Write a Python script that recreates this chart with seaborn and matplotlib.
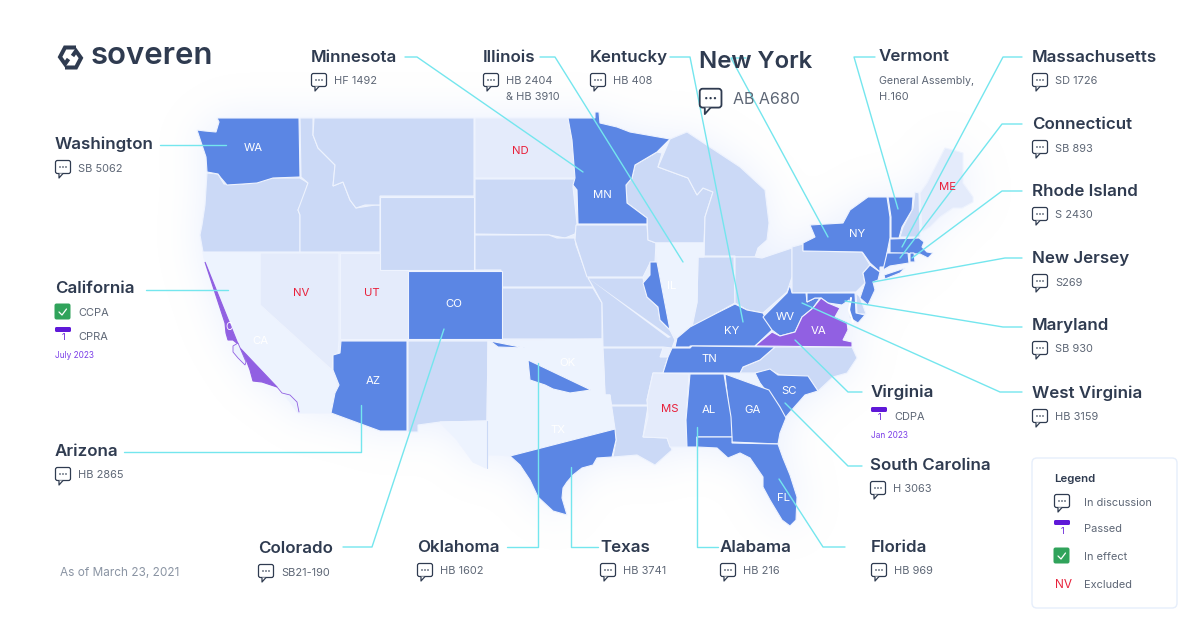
import numpy as np
import pandas as pd
import seaborn as sns
import matplotlib.pyplot as plt
from matplotlib.patches import FancyBboxPatch, Polygon, Circle
from matplotlib.path import Path

sns.set_theme(style='white')
plt.rcParams['font.family'] = ['Inter', 'DejaVu Sans']

# Colours
BLUE = '#5b86e4'
LIGHT = '#cbd9f6'
PALE = '#e4ebfb'
PALEST = '#edf3fe'
PURPLE = '#9160e2'
RED = '#e8203a'
DARK = '#2f3b50'
GREY = '#5d6675'
CAL = '#5f18d8'
LINK = '#74e6ee'

# State outlines
WA = [(217,118),(299,118),(300,177),(273,178),(257,183),(243,184),(227,185),(221,178),(218,174),(207,172),(206,157),(197,130),(205,131),(216,132),(219,122)]
OR = [(207,173),(218,174),(224,184),(243,184),(270,178),(300,178),(308,183),(303,200),(298,210),(300,215),(300,252),(203,252),(200,235),(202,225),(205,205)]
ID = [(300,118),(313,118),(313,135),(318,148),(330,160),(335,165),(333,186),(343,182),(350,200),(356,208),(375,205),(380,205),(380,252),(300,252),(300,215),(298,210),(308,183),(301,177)]
MT = [(314,118),(474,118),(474,196),(380,196),(380,205),(365,205),(356,208),(350,200),(343,182),(333,186),(335,165),(318,148),(313,135)]
WY = [(380,197),(474,197),(474,270),(380,270)]
ND = [(475,118),(568,118),(572,140),(575,178),(475,178)]
SD = [(475,179),(575,179),(573,187),(577,224),(575,234),(565,238),(549,235),(475,234)]
NE = [(475,235),(549,235),(557,238),(575,238),(576,245),(585,270),(593,287),(501,287),(501,270),(475,270)]
CO = [(408,271),(502,271),(502,339),(408,339)]
KS = [(502,288),(593,288),(602,303),(602,339),(502,339)]
NV = [(260,253),(339,253),(339,340),(338,353),(333,356),(332,370),(260,305)]
UT = [(340,253),(380,253),(380,270),(408,270),(408,339),(340,339)]
AZ = [(341,341),(407,341),(407,431),(380,431),(331,413),(335,393),(339,385),(333,370),(333,355),(340,353)]
NM = [(408,341),(488,341),(487,421),(440,422),(418,425),(418,432),(408,432)]
CA = [(203,253),(260,253),(260,305),(332,371),(337,385),(332,402),(330,413),(298,413),(280,388),(240,348),(225,323),(205,263)]
CA_STRIP = [(205,262),(238,344),(233,340),(228,340),(226,333),(225,323)]
CA_SOUTH = [(240,348),(277,387),(262,382),(253,381),(250,370),(247,362)]
CA_ISLAND = [(233,346),(238,343),(246,362),(245,365),(238,358),(233,352)]
TX_OK = [(488,341),(602,339),(605,395),(610,395),(615,429),(510,456),(500,455),(488,455),(486,468),(473,462),(457,440),(440,422),(487,421)]
TX = [(510,456),(615,429),(616,440),(612,457),(597,458),(593,465),(582,468),(573,475),(567,482),(563,488),(562,498),(567,515),(553,511),(538,497),(530,480),(520,465)]
OK_A = [(490,341),(525,348),(498,347)]
OK_B = [(528,360),(591,390),(570,393),(553,389),(545,385),(530,380)]
MN = [(568,118),(595,118),(595,112),(599,112),(600,123),(617,127),(630,132),(670,139),(657,152),(635,165),(632,178),(626,185),(627,203),(647,218),(647,224),(578,224),(577,190),(573,185),(575,178),(572,140)]
IA = [(576,225),(647,225),(648,240),(656,243),(655,262),(650,263),(643,277),(587,277),(575,240)]
WI = [(657,152),(662,153),(658,167),(688,178),(697,195),(703,188),(713,192),(705,217),(704,243),(656,243),(648,240),(647,218),(627,203),(626,185),(632,178),(635,165)]
MI = [(687,132),(670,139),(658,167),(688,178),(697,195),(703,188),(713,192),(705,217),(704,256),(735,256),(735,257),(755,257),(758,248),(767,240),(769,223),(765,190),(740,167)]
IL = [(656,243),(704,243),(704,257),(698,257),(697,302),(690,327),(677,338),(670,330),(660,300)]
IL_BLUE = [(650,262),(657,262),(670,330),(660,320),(658,307),(647,297),(643,283),(650,275)]
IN = [(698,257),(734,257),(735,303),(717,313),(692,327),(697,303)]
OH = [(735,257),(755,257),(762,258),(792,248),(792,277),(787,292),(763,313),(747,310),(735,303)]
KY = [(677,338),(690,327),(717,313),(735,304),(747,310),(763,313),(772,330),(755,346),(690,346),(690,347),(675,347)]
TN = [(672,348),(690,348),(692,346),(775,347),(760,360),(743,367),(740,373),(663,373),(668,357)]
WV = [(763,317),(787,293),(790,285),(792,293),(806,293),(807,302),(815,298),(820,298),(813,308),(802,317),(795,332),(780,336),(772,330)]
VA = [(755,346),(772,332),(780,336),(795,332),(802,317),(813,308),(821,298),(828,303),(840,308),(835,317),(847,322),(848,330),(843,340),(852,342),(852,347)]
MD = [(807,293),(855,293),(856,313),(865,315),(858,323),(850,318),(849,300),(842,305),(828,303),(821,298),(815,298),(807,302)]
DE = [(856,293),(860,297),(866,314),(857,314)]
NC = [(775,347),(852,347),(857,358),(847,373),(833,377),(818,391),(808,377),(780,375),(770,370),(755,373),(740,373),(743,367),(760,360)]
NC_GAP = [(740,374),(755,374),(762,383),(769,390),(725,374)]
SC = [(755,373),(770,369),(778,375),(808,376),(818,391),(805,395),(790,412),(785,418),(773,400),(760,383)]
GA = [(725,374),(769,390),(780,407),(786,418),(780,433),(778,444),(732,442),(730,420)]
AL = [(690,374),(724,374),(731,417),(732,437),(697,437),(697,447),(687,447),(686,420)]
FL = [(697,437),(732,437),(732,443),(778,444),(783,458),(790,475),(797,497),(796,520),(790,526),(782,520),(770,500),(763,487),(763,477),(750,458),(740,453),(728,458),(717,448),(697,447)]
MS = [(653,373),(689,374),(686,420),(687,447),(670,447),(667,438),(643,437),(648,417),(647,400)]
LA = [(611,406),(648,406),(643,437),(667,438),(672,450),(655,465),(637,455),(613,457),(616,440)]
AR = [(603,348),(663,348),(660,357),(668,357),(663,373),(653,373),(647,400),(648,405),(611,405),(610,395),(605,395),(604,367)]
MO = [(588,278),(643,278),(647,297),(658,307),(660,320),(670,330),(675,340),(672,348),(663,347),(603,347),(602,303),(595,290)]
NY = [(868,197),(887,197),(890,217),(890,238),(887,253),(886,267),(880,267),(880,272),(870,263),(863,253),(862,252),(803,251),(803,243),(815,237),(810,225),(843,223),(850,210)]
LI = [(884,275),(905,268),(900,273),(885,279)]
VT = [(888,197),(913,197),(912,210),(902,227),(899,238),(891,238),(891,217)]
NH = [(915,192),(919,193),(920,237),(900,237),(903,227),(913,208)]
ME = [(920,193),(927,183),(945,148),(953,150),(963,153),(963,183),(973,197),(973,202),(962,208),(953,208),(940,217),(930,227),(922,232)]
MA = [(890,239),(919,238),(924,242),(922,247),(927,252),(933,253),(928,258),(920,254),(890,253)]
CT = [(887,253),(908,253),(909,263),(890,266),(883,270)]
RI = [(910,253),(914,253),(915,262),(910,262)]
NJ = [(870,265),(880,272),(878,280),(873,282),(875,290),(868,305),(860,298),(865,283),(863,273)]
PA = [(792,247),(803,244),(803,251),(862,252),(870,265),(863,273),(865,283),(856,292),(792,293)]

light_states = [OR, ID, MT, WY, SD, NE, KS, NM, IA, WI, MI, IN, OH, NC, LA, AR, MO, PA, NH, DE]
pale_states = [ND, NV, UT, MS, ME]
palest_states = [CA, TX_OK, IL, NC_GAP]
blue_states = [WA, CO, AZ, TX, OK_A, OK_B, MN, IL_BLUE, KY, TN, WV, MD, SC, GA, AL, FL, NY, LI, VT, MA, CT, RI, NJ]
purple_states = [VA, CA_STRIP, CA_SOUTH]

state_codes = ['WA', 'CO', 'AZ', 'CA', 'OK', 'TX', 'MN', 'IL', 'KY', 'WV', 'VA', 'TN', 'NY', 'AL', 'GA', 'SC', 'FL']
state_code_x = [253, 454, 373, 260, 567, 558, 602, 672, 732, 785, 819, 709, 857, 709, 753, 789, 783]
state_code_y = [148, 304, 381, 341, 363, 430, 195, 286, 331, 317, 331, 359, 234, 410, 410, 391, 498]
excluded_codes = ['NV', 'UT', 'ND', 'ME', 'MS']
excluded_x = [301, 372, 520, 948, 670]
excluded_y = [293, 293, 151, 187, 409]

bill_names = ['Minnesota', 'Illinois', 'Kentucky', 'Massachusetts', 'Connecticut', 'Rhode Island', 'New Jersey', 'Maryland', 'West Virginia', 'South Carolina', 'Florida', 'Alabama', 'Texas', 'Oklahoma', 'Colorado', 'Arizona', 'Washington']
bill_x = [311, 483, 590, 1032, 1032, 1032, 1032, 1032, 1032, 870, 871, 720, 600, 417, 258, 55, 55]
bill_y = [56, 56, 56, 56, 123, 190, 257, 324, 392, 464, 546, 546, 546, 546, 547, 450, 143]
bill_text = ['HF 1492', 'HB 2404', 'HB 408', 'SD 1726', 'SB 893', 'S 2430', 'S269', 'SB 930', 'HB 3159', 'H 3063', 'HB 969', 'HB 216', 'HB 3741', 'HB 1602', 'SB21-190', 'HB 2865', 'SB 5062']

# leader lines
leaders = {
    'WA': [(160,145),(226,145)],
    'CA': [(146,290),(228,290)],
    'AZ': [(124,452),(361,452),(361,405)],
    'CO': [(343,547),(372,547),(444,329)],
    'OK': [(507,547),(538,547),(538,363)],
    'TX': [(598,547),(571,547),(571,467)],
    'AL': [(718,547),(697,547),(697,427)],
    'FL': [(845,547),(823,547),(779,479)],
    'SC': [(862,466),(848,466),(785,403)],
    'VA': [(862,392),(848,392),(795,340)],
    'WV': [(1022,392),(1000,392),(802,303)],
    'MD': [(1022,327),(1003,327),(845,301)],
    'NJ': [(1022,258),(1005,258),(873,282)],
    'RI': [(1022,191),(1002,191),(912,258)],
    'CT': [(1022,124),(1002,124),(900,258)],
    'MA': [(1022,57),(1003,57),(902,247)],
    'VT': [(875,57),(854,57),(898,209)],
    'NY': [(746,58),(731,58),(828,237)],
    'KY': [(670,57),(690,57),(743,322)],
    'IL': [(540,57),(555,57),(683,262)],
    'MN': [(405,57),(417,57),(583,172)],
}


def text(x, y, s, size=8, color=GREY, weight='normal', ha='left'):
    ax.text(x, y + 1.5, s, fontsize=size, color=color, fontweight=weight, ha=ha, va='center')


def speech_icon(x, y, k=1.0):
    # outlined speech bubble, x/y is top left
    ax.add_patch(FancyBboxPatch((x + 1.5 * k, y + 1.5 * k), 13 * k, 11 * k,
                                boxstyle=f'round,pad={1.0 * k},rounding_size={2 * k}',
                                fc='white', ec=DARK, lw=0.9 * k, zorder=6))
    tail = [(x + 4 * k, y + 13.5 * k), (x + 4 * k, y + 18 * k), (x + 8 * k, y + 13.5 * k)]
    ax.add_patch(Polygon(tail, closed=False, fc='white', ec=DARK, lw=0.9 * k, zorder=7, joinstyle='round'))
    for dx in (5, 8, 11):
        ax.add_patch(Circle((x + dx * k, y + 7 * k), 0.8 * k, fc=DARK, ec='none', zorder=7))


def calendar_icon(x, y):
    ax.add_patch(FancyBboxPatch((x + 0.5, y + 0.5), 15, 4, boxstyle='round,pad=0.5,rounding_size=1.5', fc=CAL, ec='none', zorder=6))
    ax.text(x + 8, y + 11, '1', fontsize=6.5, color=CAL, ha='center', va='center', zorder=6)


def check_icon(x, y):
    ax.add_patch(FancyBboxPatch((x + 1, y + 1), 15, 15, boxstyle='round,pad=0.5,rounding_size=2', fc='#30a35b', ec='none', zorder=6))
    ax.plot([x + 5, x + 8, x + 12.5], [y + 9, y + 12, y + 6], color='white', lw=0.9, zorder=7)


fig = plt.figure(figsize=(12, 6.3), dpi=100)
ax = fig.add_axes([0, 0, 1, 1])
ax.set_xlim(0, 1200)
ax.set_ylim(630, 0)
ax.axis('off')

# soft glow under the map
all_states = light_states + pale_states + palest_states + blue_states + purple_states
gx, gy = np.meshgrid(np.arange(1200) + 0.5, np.arange(630) + 0.5)
grid = np.column_stack([gx.ravel(), gy.ravel()])
mask = np.zeros(grid.shape[0], dtype=bool)
for poly in all_states:
    mask |= Path(poly + [poly[0]]).contains_points(grid)
mask = mask.reshape(gx.shape).astype(float)
fx = np.fft.fftfreq(1200)
fy = np.fft.fftfreq(630)
sigma = 20
kernel = np.exp(-2 * (np.pi * sigma) ** 2 * (fx[None, :] ** 2 + fy[:, None] ** 2))
glow = np.real(np.fft.ifft2(np.fft.fft2(mask) * kernel))
rgba = np.zeros(gx.shape + (4,))
rgba[..., :3] = sns.desaturate('#c2d4fb', 1.0)
rgba[..., 3] = np.clip(glow, 0, 1) * 0.36
ax.imshow(rgba, extent=(0, 1200, 630, 0), zorder=1, aspect='auto', interpolation='bilinear')

for group, colour in [(light_states, LIGHT), (pale_states, PALE), (palest_states, PALEST), (blue_states, BLUE), (purple_states, PURPLE)]:
    for poly in group:
        edge = PURPLE if (poly is CA_STRIP or poly is CA_SOUTH) else ('none' if poly is NC_GAP else '#eef3fe')
        ax.add_patch(Polygon(poly, closed=True, fc=colour, ec=edge, lw=0.8, zorder=2))

# bits of coast and the odd white sliver over Missouri
ax.add_patch(Polygon(CA_ISLAND, closed=True, fc=PALEST, ec=PURPLE, lw=0.6, zorder=3))
ax.plot([277, 282, 290, 297, 299], [387, 393, 395, 402, 412], color=PURPLE, lw=0.6, zorder=3)
ax.add_patch(Polygon([(588,278),(671,337),(668,338)], closed=True, fc='#eef3fe', ec='none', zorder=3))
ax.plot([851, 849, 853], [298, 310, 322], color='white', lw=1.5, zorder=3)
ax.plot([487, 487], [421, 468], color=LIGHT, lw=0.8, zorder=3)

# leader lines
rows = []
for key, pts in leaders.items():
    for order, (px, py) in enumerate(pts):
        rows.append({'state': key, 'order': order, 'x': px, 'y': py})
leader_df = pd.DataFrame(rows)
sns.lineplot(data=leader_df, x='x', y='y', units='state', estimator=None, sort=False,
             color=LINK, lw=1.0, legend=False, ax=ax, zorder=4)
ax.set_xlim(0, 1200)
ax.set_ylim(630, 0)
ax.axis('off')

for code, x, y in zip(state_codes, state_code_x, state_code_y):
    ax.text(x, y, code, fontsize=8.2, color='white', ha='center', va='center', zorder=5)
for code, x, y in zip(excluded_codes, excluded_x, excluded_y):
    ax.text(x, y, code, fontsize=8.2, color=RED, ha='center', va='center', zorder=5)
ax.text(229, 327, 'C', fontsize=7, color='white', ha='center', va='center', zorder=5)

# logo
ax.plot([76, 65, 60, 65, 68.5], [47.5, 47.5, 57, 64, 59], color=DARK, lw=2.9, solid_capstyle='butt', solid_joinstyle='miter', zorder=6)
ax.plot([65, 76, 81, 76, 72.5], [67.5, 67.5, 58, 51, 56], color=DARK, lw=2.9, solid_capstyle='butt', solid_joinstyle='miter', zorder=6)
text(91, 54.5, 'soveren', size=22.4, color=DARK, weight='semibold')

# callouts with a bill under discussion
for name, x, y, bill in zip(bill_names, bill_x, bill_y, bill_text):
    text(x, y, name, size=12.2, color=DARK, weight='semibold')
    speech_icon(x, y + 17)
    text(x + 23, y + 24, bill, size=7.9)
text(506, 95, '& HB 3910', size=7.9)

text(699, 60, 'New York', size=17.3, color=DARK, weight='semibold')
speech_icon(699, 88, 1.45)
text(733, 98, 'AB A680', size=11.5)

text(879, 55, 'Vermont', size=12.2, color=DARK, weight='semibold')
text(879, 80, 'General Assembly,', size=7.7)
text(879, 95, 'H.160', size=7.9)

text(871, 391, 'Virginia', size=12.2, color=DARK, weight='semibold')
calendar_icon(871, 407)
text(894, 416, 'CDPA', size=7.9)
text(871, 434, 'Jan 2023', size=6, color='#7c3fe8')

text(55, 287, 'California', size=12.2, color=DARK, weight='semibold')
check_icon(54, 303)
text(78, 312, 'CCPA', size=7.9)
calendar_icon(55, 327)
text(78, 335, 'CPRA', size=7.9)
text(55, 354, 'July 2023', size=6, color='#7c3fe8')

text(60, 571, 'As of March 23, 2021', size=8.5, color='#8a94a3')

# legend box
ax.add_patch(FancyBboxPatch((1034, 460), 141, 146, boxstyle='round,pad=2,rounding_size=5', fc='white', ec='#e6eefb', lw=1.0, zorder=5))
text(1054, 477, 'Legend', size=8.2, color=DARK, weight='semibold')
speech_icon(1054, 494)
text(1084, 501, 'In discussion', size=7.9)
calendar_icon(1054, 520)
text(1084, 528, 'Passed', size=7.9)
check_icon(1053, 547)
text(1084, 556, 'In effect', size=7.9)
text(1055, 584, 'NV', size=8.5, color=RED)
text(1084, 584, 'Excluded', size=7.9)

for t in ax.texts:
    t.set_zorder(8)

fig.savefig('out.png', dpi=100)
